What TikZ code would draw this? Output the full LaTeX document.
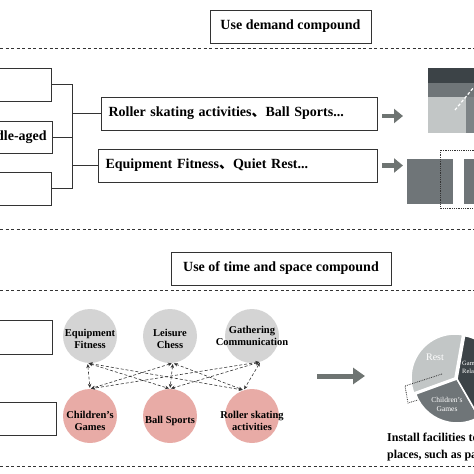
\documentclass[tikz,border=0pt]{standalone}
\usepackage{fontspec}
\setmainfont{Liberation Serif}
\newfontfamily\cjk{Noto Sans CJK SC}
\usetikzlibrary{arrows.meta}

\definecolor{boxline}{HTML}{333333}
\definecolor{bigarrow}{HTML}{6E7472}
\definecolor{usecircle}{HTML}{D4D4D4}
\definecolor{sportcircle}{HTML}{E8ABA6}
\definecolor{darkslate}{HTML}{3C4347}
\definecolor{midslate}{HTML}{6F7578}
\definecolor{lightslate}{HTML}{C2C6C6}

\begin{document}
\begin{tikzpicture}[x=1pt, y=-1pt,
    every node/.style={font=\bfseries},
    tag/.style={draw=boxline, line width=1pt, inner sep=0pt},
    headbox/.style={tag, minimum height=33pt, font=\bfseries\fontsize{14}{16}\selectfont},
    activity/.style={tag, anchor=west, minimum height=33pt, inner sep=7pt, align=left,
      font=\bfseries\fontsize{14}{16}\selectfont},
    spot/.style={circle, minimum size=54pt, inner sep=0pt},
    spottext/.style={align=center, inner sep=0pt, font=\bfseries\fontsize{10.5}{12}\selectfont},
    link/.style={draw=boxline, line width=0.6pt, densely dashed,
      {Stealth[length=4pt,width=3.5pt]}-{Stealth[length=4pt,width=3.5pt]}, shorten <=1pt, shorten >=1pt},
    divider/.style={draw=boxline, line width=1pt, dash pattern=on 3pt off 2.5pt},
    flowarrow/.style={draw=bigarrow, line width=4.5pt, -{Triangle[length=9pt,width=14pt]}},
    pietext/.style={text=white, inner sep=0pt, align=center, font=\fontsize{7.5}{9}\selectfont}
  ]
  \useasboundingbox (0,0) rectangle (474,474);
  \clip (0,0) rectangle (474,474);

  % use demand compound
  \node[headbox, minimum width=161pt] (demand) at (290.5,26.5) {Use demand compound};
  \draw[divider] (0,48) -- (474,48);

  \node[tag, minimum width=86pt, minimum height=33pt] (young) at (8,84.5) {};
  \node[tag, minimum width=86pt, minimum height=32pt, font=\bfseries\fontsize{14}{16}\selectfont]
    (middle) at (9,137) {Middle-aged};
  \node[tag, minimum width=86pt, minimum height=33pt] (old) at (8,188.5) {};

  \coordinate (jtop) at (72,84.5);
  \coordinate (jbot) at (72,188.5);
  \draw[tag] (young.east) -- (jtop) -- (jbot) -- (old.east);
  \draw[tag] (middle.east) -- (middle.east -| jtop);

  \node[activity, text width=262pt] (roller) at (101,113.5) {Roller skating activities{\cjk 、}Ball Sports...};
  \node[activity, text width=265pt] (gear) at (98,165.5) {Equipment Fitness{\cjk 、}Quiet Rest...};
  \draw[tag] (jtop |- roller.west) -- (roller.west);
  \draw[tag] (jtop |- gear.west) -- (gear.west);

  \coordinate (rollerend) at (403,116);
  \coordinate (gearend) at (403,165.5);
  \draw[flowarrow] ([xshift=4pt,yshift=-2.5pt]roller.east) -- (rollerend);
  \draw[flowarrow] ([xshift=4pt]gear.east) -- (gearend);

  % plan sketches
  \fill[darkslate] (428,68) rectangle (474,83);
  \fill[midslate] (428,83) rectangle (474,97);
  \fill[lightslate] (428,97) rectangle (466,133);
  \fill[midslate!90!white] (466,97) rectangle (474,133);
  \draw[white, line width=1.2pt, dash pattern=on 3pt off 2pt] (455,110) -- (474,87);

  \fill[midslate] (407,159) rectangle (453,204);
  \fill[midslate] (464,159) rectangle (480,204);
  \draw[boxline, densely dotted, line width=0.8pt] (440,150) rectangle (490,208);

  \draw[divider] (0,229) -- (474,229);

  % use of time and space compound
  \node[headbox, minimum width=220pt] (timespace) at (281,268.5) {Use of time and space compound};
  \draw[divider] (0,290) -- (474,290);

  \node[tag, minimum width=86pt, minimum height=34pt] (weekday) at (9,337) {};
  \node[tag, minimum width=86pt, minimum height=33pt] (weekend) at (13,418.5) {};

  \node[spot, fill=usecircle, label={[spottext, yshift=-3pt]center:Equipment\\Fitness}] (fit) at (90,336) {};
  \node[spot, fill=usecircle, label={[spottext, yshift=-3pt]center:Leisure\\Chess}] (chess) at (170,336) {};
  \node[spot, fill=usecircle, label={[spottext]center:Gathering\\Communication}] (talk) at (252,336) {};
  \node[spot, fill=sportcircle, label={[spottext, yshift=-5pt]center:Children's\\Games}] (kids) at (90,416) {};
  \node[spot, fill=sportcircle, label={[spottext, yshift=-5pt]center:Ball Sports}] (ball) at (170,416) {};
  \node[spot, fill=sportcircle, label={[spottext, yshift=-5pt]center:Roller skating\\activities}] (skate) at (252,416) {};

  \foreach \a/\p in {fit/-95,chess/-84,talk/-72}
    \foreach \b/\q in {kids/90,ball/90,skate/108}
      \draw[link] (\a.\p) -- (\b.\q);

  \coordinate (shiftstart) at (317,376);
  \coordinate (shiftend) at (365,376);
  \draw[flowarrow, line width=5pt, -{Triangle[length=12pt,width=16pt]}] (shiftstart) -- (shiftend);

  % pie of uses
  \fill[lightslate, draw=white, line width=1.5pt] (455,378) -- ++(-80:44) arc[start angle=-80, end angle=-200, radius=44] -- cycle;
  \fill[midslate, draw=white, line width=1.5pt] (457,379) -- ++(-200:44) arc[start angle=-200, end angle=-300, radius=44] -- cycle;
  \fill[darkslate, draw=white, line width=1.5pt] (457,379) -- ++(-300:44) arc[start angle=-300, end angle=-440, radius=44] -- cycle;
  \draw[boxline, densely dotted, line width=0.8pt] (442,374) -- (405,386) -- (408,403) -- (418,400);

  \node[pietext, font=\fontsize{10}{12}\selectfont] (rest) at (435,357) {Rest};
  \node[pietext] (kidspart) at (447,404) {Children's\\Games};
  \node[pietext, anchor=west, align=left, font=\fontsize{6.5}{8}\selectfont] (relax) at (462,367) {Games\\Relaxation};

  \node[anchor=north west, align=left, inner sep=0pt, font=\bfseries\fontsize{12}{16.5}\selectfont]
    (install) at (387,433) {Install facilities to\\places, such as parks};

  \draw[divider] (0,466) -- (474,466);
\end{tikzpicture}
\end{document}
